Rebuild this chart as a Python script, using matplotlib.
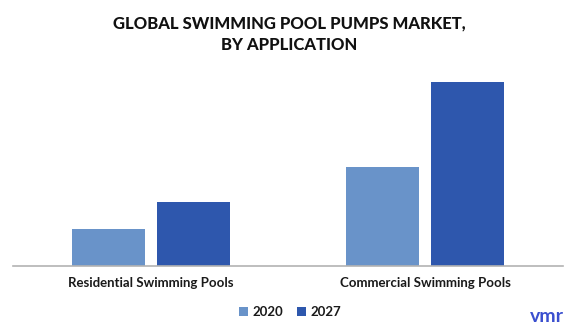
import matplotlib
matplotlib.use("Agg")
import matplotlib.pyplot as plt
import numpy as np

# Market size by application (relative units)
categories = ["Residential Swimming Pools", "Commercial Swimming Pools"]
years = ["2020", "2027"]
values_2020 = [3.7, 9.9]
values_2027 = [6.4, 18.4]

colors = ["#6993c9", "#2e57ad"]

plt.rcParams["font.family"] = ["Lato", "DejaVu Sans"]

fig = plt.figure(figsize=(5.78, 3.36), dpi=100)
ax = fig.add_axes([13 / 578, 1 - 266 / 336, 550 / 578, 196 / 336])

x = np.arange(len(categories))
width = 0.266
offset = 0.155
ax.bar(x - offset, values_2020, width, color=colors[0], label=years[0])
ax.bar(x + offset, values_2027, width, color=colors[1], label=years[1])

ax.set_xlim(-0.504, 1.504)
ax.set_ylim(0, 19.6)
ax.set_yticks([])
ax.set_xticks(x)
ax.set_xticklabels(categories, fontsize=9.5, color="#1a1a1a", fontweight="bold")
ax.tick_params(axis="x", length=0, pad=8)
for side in ["top", "right", "left"]:
    ax.spines[side].set_visible(False)
ax.spines["bottom"].set_color("#b3b3b3")
ax.spines["bottom"].set_linewidth(1.2)

fig.text(0.5, 1 - 34 / 336, "GLOBAL SWIMMING POOL PUMPS MARKET,\nBY APPLICATION",
         ha="center", va="center", fontsize=12, fontweight="black",
         color="#111111", linespacing=1.45)

leg = fig.legend(loc="center", bbox_to_anchor=(290 / 578, 1 - 312 / 336), ncol=2,
                 frameon=False, fontsize=9.5, handlelength=0.7, handleheight=0.7,
                 handletextpad=0.35, columnspacing=1.0)
for t in leg.get_texts():
    t.set_fontweight("bold")
    t.set_color("#1a1a1a")

fig.text(547 / 578, 1 - 317 / 336, "vmr", ha="center", va="center",
         fontsize=14, fontweight="bold", color="#3a4fcf")

fig.savefig("out.png", dpi=100)
